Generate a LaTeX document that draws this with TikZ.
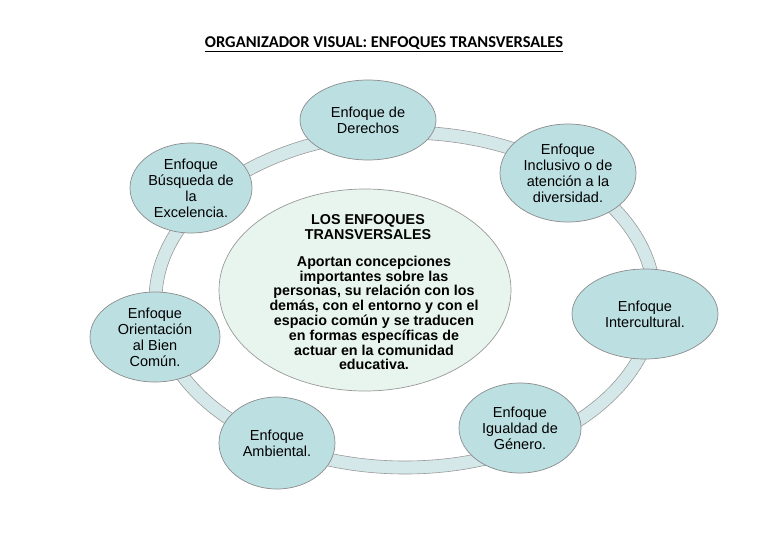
\documentclass[tikz,border=0pt]{standalone}
\usepackage{fontspec}
\setmainfont{Liberation Sans}
\newfontfamily\titlefont{Carlito}
\begin{document}
\begin{tikzpicture}[x=1pt,y=-1pt,
  txt/.style={align=center, font=\fontsize{14.5}{16}\selectfont}]
\usetikzlibrary{shapes.geometric}
\definecolor{satfill}{HTML}{BCDFE2}
\definecolor{ringfill}{HTML}{D4E8EA}
\definecolor{cenfill}{HTML}{E8F5EE}
\useasboundingbox (0,0) rectangle (768,544);
\node[font=\titlefont\bfseries\fontsize{16.5}{18}\selectfont] (title) at (384,44) {\underline{ORGANIZADOR VISUAL: ENFOQUES TRANSVERSALES}};
% ring
\draw[black!40, line width=0.6pt, fill=ringfill, even odd rule]
  (405,300) ellipse [x radius=256, y radius=174]
  (405,300) ellipse [x radius=243, y radius=161];
\node[ellipse, draw=black!40, line width=0.7pt, fill=cenfill, minimum width=292, minimum height=202, inner sep=0] (c) at (365,290) {};
\node[txt, font=\bfseries\fontsize{14.3}{14.5}\selectfont] (ct) at (368,227) {LOS ENFOQUES\\TRANSVERSALES};
\node[txt, font=\bfseries\fontsize{14.3}{14.8}\selectfont] (cb) at (374,313) {Aportan concepciones\\importantes sobre las\\personas, su relación con los\\demás, con el entorno y con el\\espacio común y se traducen\\en formas específicas de\\actuar en la comunidad\\educativa.};
\node[ellipse, draw=black!45, line width=0.7pt, fill=satfill, minimum width=136, minimum height=80, inner sep=0] (a) at (368,120) {};
\node[txt] at (a) {Enfoque de\\Derechos};
\node[ellipse, draw=black!45, line width=0.7pt, fill=satfill, minimum width=136, minimum height=98, inner sep=0] (b) at (568,173) {};
\node[txt] at (b) {Enfoque\\Inclusivo o de\\atención a la\\diversidad.};
\node[ellipse, draw=black!45, line width=0.7pt, fill=satfill, minimum width=146, minimum height=90, inner sep=0] (d) at (645,314) {};
\node[txt] at (d) {Enfoque\\Intercultural.};
\node[ellipse, draw=black!45, line width=0.7pt, fill=satfill, minimum width=122, minimum height=90, inner sep=0] (e) at (520,428) {};
\node[txt] at (e) {Enfoque\\Igualdad de\\Género.};
\node[ellipse, draw=black!45, line width=0.7pt, fill=satfill, minimum width=116, minimum height=92, inner sep=0] (f) at (277,443) {};
\node[txt] at (f) {Enfoque\\Ambiental.};
\node[ellipse, draw=black!45, line width=0.7pt, fill=satfill, minimum width=130, minimum height=90, inner sep=0] (g) at (155,337) {};
\node[txt] at (g) {Enfoque\\Orientación\\al Bien\\Común.};
\node[ellipse, draw=black!45, line width=0.7pt, fill=satfill, minimum width=122, minimum height=90, inner sep=0] (h) at (191,188) {};
\node[txt] at (h) {Enfoque\\Búsqueda de\\la\\Excelencia.};
\end{tikzpicture}
\end{document}
